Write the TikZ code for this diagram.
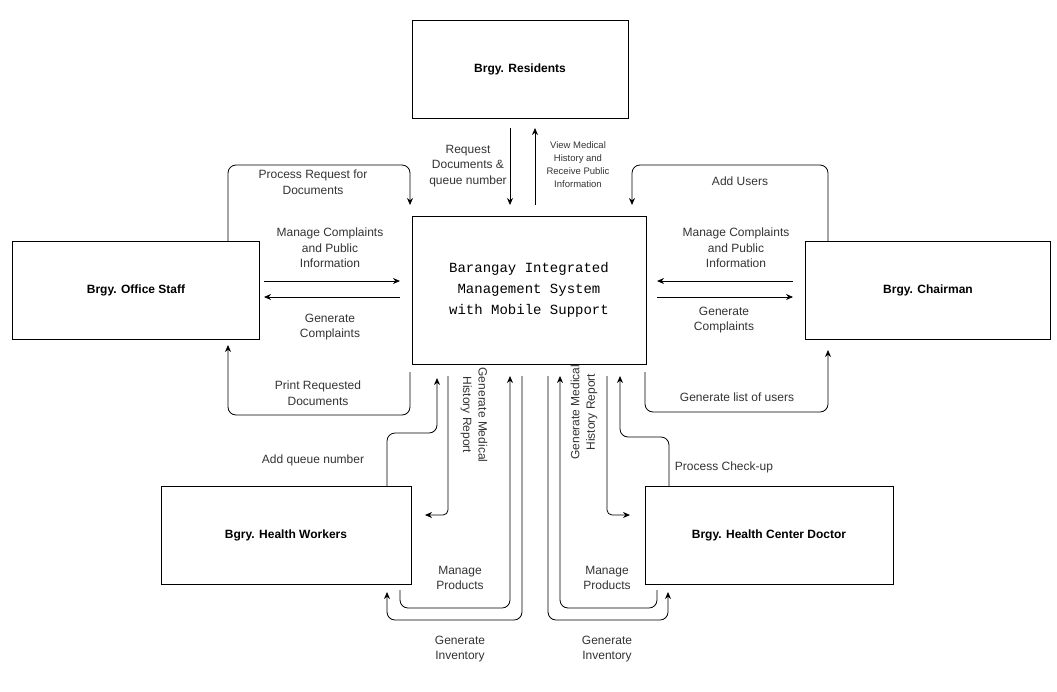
\documentclass[tikz,border=0pt]{standalone}
\usepackage{fontspec}
\setmainfont{Liberation Sans}
\newfontfamily\monof{Liberation Mono}
\usetikzlibrary{arrows.meta}
\begin{document}
\begin{tikzpicture}[x=1pt,y=-1pt,
 ent/.style={draw,line width=0.8pt,font=\bfseries\fontsize{12}{14}\selectfont,inner sep=0},
 lab/.style={font=\fontsize{12}{15.5}\selectfont,align=center,text=black!80},
 fl/.style={draw,line width=0.8pt,rounded corners=8pt,-{Stealth[length=7pt,width=6pt]}}]
\useasboundingbox (0,0) rectangle (1057,691);
\node[ent,minimum width=216pt,minimum height=98pt] (res) at (520,69) {Brgy. Residents};
\node[ent,minimum width=234pt,minimum height=148pt,font=\monof\fontsize{14}{21}\selectfont,align=center] (sys) at (529,290) {Barangay Integrated\\Management System\\with Mobile Support};
\node[ent,minimum width=247pt,minimum height=98pt] (staff) at (136,290) {Brgy. Office Staff};
\node[ent,minimum width=245pt,minimum height=98pt] (ch) at (928,290) {Brgy. Chairman};
\node[ent,minimum width=250pt,minimum height=98pt] (hw) at (286,535) {Bgry. Health Workers};
\node[ent,minimum width=248pt,minimum height=98pt] (doc) at (769,535) {Brgy. Health Center Doctor};
% residents
\coordinate (r1) at (510,128); \coordinate (r2) at (510,205);
\draw[fl] (r1) -- (r2);
\coordinate (r3) at (535,205); \coordinate (r4) at (535,128);
\draw[fl] (r3) -- (r4);
\node[lab] (lr1) at (468,166) {Request\\Documents \&\\queue number};
\node[lab,font=\fontsize{9.5}{13}\selectfont] (lr2) at (578,165) {View Medical\\History and\\Receive Public\\Information};
% top loops
\draw[fl] (228,241) -- (228,165) -- (410,165) -- (410,205);
\node[lab] (l1) at (313,182) {Process Request for\\Documents};
\draw[fl] (828,241) -- (828,165) -- (632,165) -- (632,205);
\node[lab] (l2) at (740,181) {Add Users};
% side arrows
\draw[fl] (264,281) -- (400,281);
\node[lab] (l3) at (330,248) {Manage Complaints\\and Public\\Information};
\draw[fl] (400,297) -- (264,297);
\node[lab] (l4) at (330,327) {Generate\\Complaints};
\draw[fl] (793,281) -- (657,281);
\node[lab] (l5) at (736,248) {Manage Complaints\\and Public\\Information};
\draw[fl] (657,297) -- (793,297);
\node[lab] (l6) at (724,320) {Generate\\Complaints};
% bottom loops
\draw[fl] (410,372) -- (410,415) -- (228,415) -- (228,345);
\node[lab] (l7) at (318,393) {Print Requested\\Documents};
\draw[fl] (645,372) -- (645,412) -- (828,412) -- (828,350);
\node[lab] (l8) at (737,397) {Generate list of users};
\draw[fl] (387,486) -- (387,433) -- (437,433) -- (437,378);
\node[lab] (l9) at (313,460) {Add queue number};
\draw[fl,rounded corners=5pt] (448,376) -- (448,515) -- (425,515);
\node[lab,rotate=-90] (l10) at (474,415) {Generate Medical\\History Report};
\draw[fl] (400,590) -- (400,608) -- (510,608) -- (510,376);
\node[lab] (l11) at (460,578) {Manage\\Products};
\draw[fl] (522,376) -- (522,620) -- (387,620) -- (387,592);
\node[lab] (l12) at (460,649) {Generate\\Inventory};
\draw[fl] (548,376) -- (548,620) -- (668,620) -- (668,592);
\node[lab] (l13) at (607,649) {Generate\\Inventory};
\draw[fl] (657,590) -- (657,608) -- (560,608) -- (560,376);
\node[lab] (l14) at (607,578) {Manage\\Products};
\draw[fl,rounded corners=5pt] (607,376) -- (607,515) -- (630,515);
\node[lab,rotate=90] (l15) at (584,412) {Generate Medical\\History Report};
\draw[fl] (669,486) -- (669,437) -- (620,437) -- (620,376);
\node[lab] (l16) at (724,467) {Process Check-up};
\end{tikzpicture}
\end{document}
